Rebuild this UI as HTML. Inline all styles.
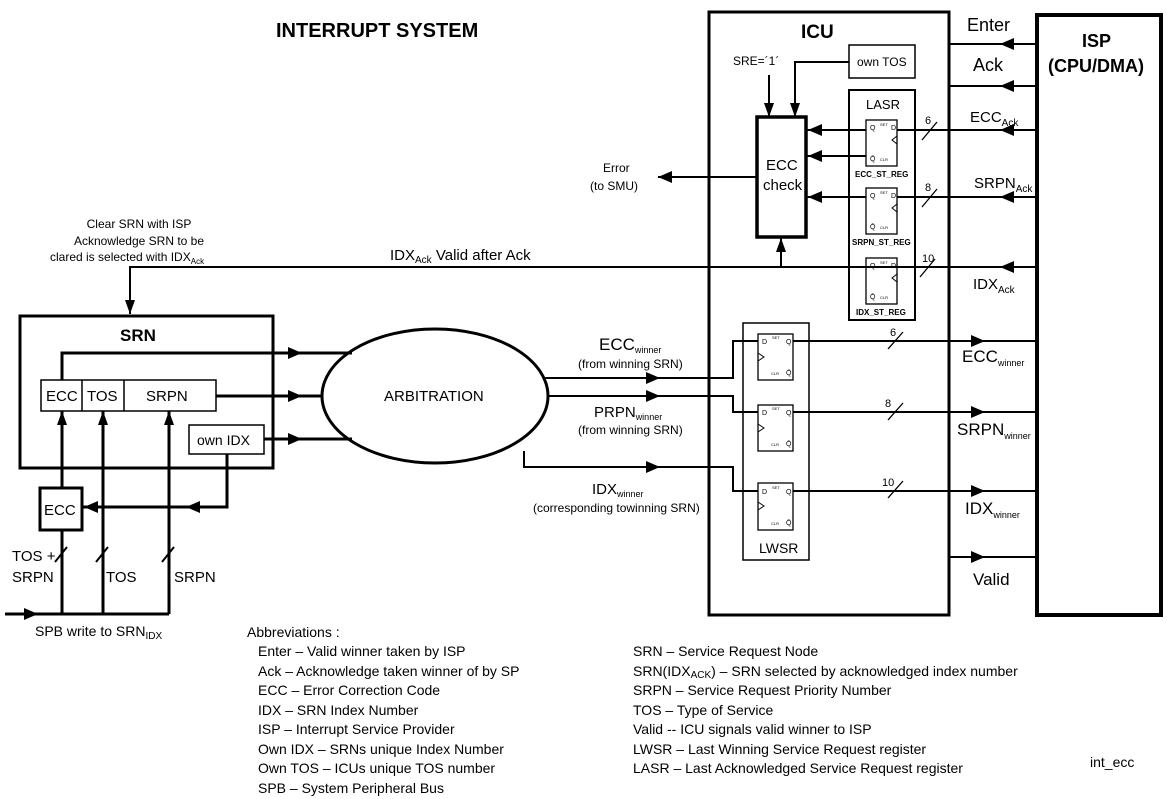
<!DOCTYPE html>
<html><head><meta charset="utf-8"><style>
html,body{margin:0;padding:0;background:#fff}
svg{display:block;font-family:"Liberation Sans",Arial,sans-serif}
</style></head><body>
<svg width="1167" height="799" viewBox="0 0 1167 799" xmlns="http://www.w3.org/2000/svg">
<g fill="none" stroke="#000">
<rect x="709" y="12" width="240" height="603" stroke-width="3"/>
<rect x="1037" y="15" width="124" height="600" stroke-width="4"/>
<rect x="849" y="45" width="66" height="33" stroke-width="1.5"/>
<rect x="849" y="90" width="66" height="230" stroke-width="2"/>
<rect x="757" y="117" width="49" height="120" stroke-width="3.5"/>
<rect x="866" y="120" width="31" height="46" stroke-width="1.3"/>
<rect x="866" y="188" width="31" height="46" stroke-width="1.3"/>
<rect x="866" y="258" width="31" height="46" stroke-width="1.3"/>
<path d="M897 136 l-5 4 l5 4 M897 204 l-5 4 l5 4 M897 274 l-5 4 l5 4" stroke-width="1"/>
<path d="M1037 44 H949 M1037 86 H949 M1037 130 H897 M866 130 H806 M866 156 H806 M1037 197 H897 M866 197 H806 M1037 267 H130 V314 M781 267 V237 M769 75 V117 M849 62 H795 V117 M757 177 H658" stroke-width="2"/>
<path d="M922 140 l15 -18 M922 207 l15 -18 M920 277 l15 -18" stroke-width="1.3"/>
<rect x="20" y="316" width="253" height="152" stroke-width="3"/>
<rect x="41" y="380" width="175" height="31" stroke-width="1.5"/>
<path d="M82 380 V411 M124 380 V411" stroke-width="1.5"/>
<rect x="189" y="425" width="75" height="29" stroke-width="1.5"/>
<ellipse cx="435" cy="396" rx="113" ry="67" stroke-width="3"/>
<rect x="40" y="488" width="42" height="42" stroke-width="3"/>
<path d="M62 380 V353 H352 M216 396 H322 M264 439 H352 M227 454 V507 H82 M62 614 V530 M62 488 V411 M103 614 V411 M169 614 V411 M5 614 H169" stroke-width="3"/>
<path d="M55 562 l12 -15 M96 562 l12 -15 M162 562 l12 -15" stroke-width="2"/>
<path d="M545 378 H733 V341 H758 M548 396 H733 V412 H758 M524 451 V467 H733 V491 H758" stroke-width="2"/>
<rect x="743" y="323" width="66" height="237" stroke-width="1.5"/>
<rect x="758" y="334" width="35" height="46" stroke-width="1.3"/>
<rect x="758" y="405" width="35" height="46" stroke-width="1.3"/>
<rect x="758" y="483" width="35" height="47" stroke-width="1.3"/>
<path d="M758 353 l6 4 l-6 4 M758 424 l6 4 l-6 4 M758 502 l6 4 l-6 4" stroke-width="1"/>
<path d="M793 341 H1037 M793 412 H1037 M793 491 H1037 M949 557 H1037" stroke-width="2"/>
<path d="M888 349 l15 -17 M888 420 l15 -17 M888 498 l15 -17" stroke-width="1.3"/>
</g>
<g fill="#000">
<polygon points="1000,44 1014,38 1014,50"/>
<polygon points="1000,86 1014,80 1014,92"/>
<polygon points="1000,130 1014,124 1014,136"/>
<polygon points="1000,197 1014,191 1014,203"/>
<polygon points="1000,267 1014,261 1014,273"/>
<polygon points="808,130 822,124 822,136"/>
<polygon points="808,156 822,150 822,162"/>
<polygon points="808,197 822,191 822,203"/>
<polygon points="658,177 672,171 672,183"/>
<polygon points="769,117 764,103 774,103"/>
<polygon points="795,117 790,103 800,103"/>
<polygon points="781,238 776,252 786,252"/>
<polygon points="130,314 125,300 135,300"/>
<polygon points="302,353 288,347 288,359"/>
<polygon points="302,396 288,390 288,402"/>
<polygon points="302,439 288,433 288,445"/>
<polygon points="62,411 57,425 67,425"/>
<polygon points="103,411 98,425 108,425"/>
<polygon points="169,411 164,425 174,425"/>
<polygon points="84,507 98,501 98,513"/>
<polygon points="186,507 200,501 200,513"/>
<polygon points="38,614 24,608 24,620"/>
<polygon points="660,378 646,372 646,384"/>
<polygon points="660,396 646,390 646,402"/>
<polygon points="660,467 646,461 646,473"/>
<polygon points="985,341 971,335 971,347"/>
<polygon points="985,412 971,406 971,418"/>
<polygon points="985,491 971,485 971,497"/>
<polygon points="985,557 971,551 971,563"/>
</g>
<g fill="#000">
<text x="276" y="37" font-size="20" font-weight="bold">INTERRUPT SYSTEM</text>
<text x="801" y="38" font-size="19" font-weight="bold">ICU</text>
<text x="1082" y="47" font-size="18" font-weight="bold">ISP</text>
<text x="1048" y="72" font-size="18" font-weight="bold">(CPU/DMA)</text>
<text x="733" y="65" font-size="12">SRE=´1´</text>
<text x="857" y="66" font-size="12">own TOS</text>
<text x="866" y="109" font-size="13">LASR</text>
<text x="766" y="170" font-size="15">ECC</text>
<text x="763" y="190" font-size="15">check</text>
<text x="855" y="177" font-size="8" font-weight="bold">ECC_ST_REG</text>
<text x="852" y="245" font-size="8" font-weight="bold">SRPN_ST_REG</text>
<text x="856" y="315" font-size="8" font-weight="bold">IDX_ST_REG</text>
<g font-size="7">
<text x="870" y="130">Q</text><text x="880" y="126" font-size="4">SET</text><text x="891" y="130">D</text><text x="870" y="161">Q̄</text><text x="880" y="161" font-size="4">CLR</text>
<text x="870" y="198">Q</text><text x="880" y="194" font-size="4">SET</text><text x="891" y="198">D</text><text x="870" y="229">Q̄</text><text x="880" y="229" font-size="4">CLR</text>
<text x="870" y="268">Q</text><text x="880" y="264" font-size="4">SET</text><text x="891" y="268">D</text><text x="870" y="299">Q̄</text><text x="880" y="299" font-size="4">CLR</text>
<text x="762" y="344">D</text><text x="772" y="339" font-size="4">SET</text><text x="786" y="344">Q</text><text x="771" y="375" font-size="4">CLR</text><text x="786" y="375">Q̄</text>
<text x="762" y="415">D</text><text x="772" y="410" font-size="4">SET</text><text x="786" y="415">Q</text><text x="771" y="446" font-size="4">CLR</text><text x="786" y="446">Q̄</text>
<text x="762" y="494">D</text><text x="772" y="489" font-size="4">SET</text><text x="786" y="494">Q</text><text x="771" y="525" font-size="4">CLR</text><text x="786" y="525">Q̄</text>
</g>
<text x="759" y="553" font-size="14">LWSR</text>
<text x="967" y="31" font-size="18">Enter</text>
<text x="973" y="71" font-size="18">Ack</text>
<text x="970" y="122" font-size="15">ECC<tspan font-size="10" dy="4">Ack</tspan></text>
<text x="974" y="188" font-size="15">SRPN<tspan font-size="10" dy="4">Ack</tspan></text>
<text x="973" y="289" font-size="15">IDX<tspan font-size="10" dy="4">Ack</tspan></text>
<text x="925" y="124" font-size="11">6</text>
<text x="925" y="191" font-size="11">8</text>
<text x="922" y="262" font-size="11">10</text>
<text x="962" y="362" font-size="17">ECC<tspan font-size="9" dy="4">winner</tspan></text>
<text x="957" y="435" font-size="17">SRPN<tspan font-size="9" dy="4">winner</tspan></text>
<text x="965" y="514" font-size="17">IDX<tspan font-size="9" dy="4">winner</tspan></text>
<text x="973" y="585" font-size="17">Valid</text>
<text x="890" y="336" font-size="11">6</text>
<text x="885" y="407" font-size="11">8</text>
<text x="882" y="486" font-size="11">10</text>
<text x="603" y="172" font-size="12">Error</text>
<text x="590" y="190" font-size="12">(to SMU)</text>
<text x="139" y="228" font-size="12" text-anchor="middle">Clear SRN with ISP</text>
<text x="139" y="245" font-size="12" text-anchor="middle">Acknowledge SRN to be</text>
<text x="50" y="261" font-size="12">clared is  selected with IDX<tspan font-size="8" dy="3">Ack</tspan></text>
<text x="390" y="260" font-size="15">IDX<tspan font-size="10" dy="3">Ack</tspan><tspan dy="-3"> Valid after Ack</tspan></text>
<text x="120" y="341" font-size="17" font-weight="bold">SRN</text>
<text x="46" y="401" font-size="15">ECC</text>
<text x="87" y="401" font-size="15">TOS</text>
<text x="146" y="401" font-size="15">SRPN</text>
<text x="197" y="445" font-size="14">own IDX</text>
<text x="384" y="401" font-size="15">ARBITRATION</text>
<text x="44" y="515" font-size="15">ECC</text>
<text x="12" y="561" font-size="15">TOS +</text>
<text x="12" y="582" font-size="15">SRPN</text>
<text x="106" y="582" font-size="15">TOS</text>
<text x="174" y="582" font-size="15">SRPN</text>
<text x="35" y="636" font-size="14">SPB write to SRN<tspan font-size="10" dy="3">IDX</tspan></text>
<text x="599" y="350" font-size="17">ECC<tspan font-size="9" dy="3">winner</tspan></text>
<text x="578" y="368" font-size="12">(from winning SRN)</text>
<text x="594" y="417" font-size="15">PRPN<tspan font-size="9" dy="3">winner</tspan></text>
<text x="578" y="434" font-size="12">(from winning SRN)</text>
<text x="592" y="494" font-size="15">IDX<tspan font-size="9" dy="3">winner</tspan></text>
<text x="533" y="512" font-size="12">(corresponding towinning SRN)</text>
<g font-size="14">
<text x="247" y="637">Abbreviations :</text>
<text x="258" y="656">Enter – Valid winner taken by ISP</text>
<text x="258" y="676">Ack    – Acknowledge taken winner of by SP</text>
<text x="258" y="695">ECC  – Error Correction Code</text>
<text x="258" y="715">IDX   – SRN Index Number</text>
<text x="258" y="734">ISP   – Interrupt Service Provider</text>
<text x="258" y="754">Own IDX – SRNs unique Index Number</text>
<text x="258" y="773">Own TOS – ICUs unique TOS number</text>
<text x="258" y="793">SPB – System Peripheral Bus</text>
<text x="633" y="656">SRN – Service Request Node</text>
<text x="633" y="676">SRN(IDX<tspan font-size="10" dy="2">ACK</tspan><tspan dy="-2">) – SRN selected by acknowledged index number</tspan></text>
<text x="633" y="695">SRPN – Service Request Priority Number</text>
<text x="633" y="715">TOS – Type of Service</text>
<text x="633" y="734">Valid --  ICU signals valid winner to ISP</text>
<text x="633" y="754">LWSR – Last Winning Service Request register</text>
<text x="633" y="773">LASR – Last Acknowledged Service Request register</text>
<text x="1090" y="767">int_ecc</text>
</g>
</g>
</svg>
</body></html>
